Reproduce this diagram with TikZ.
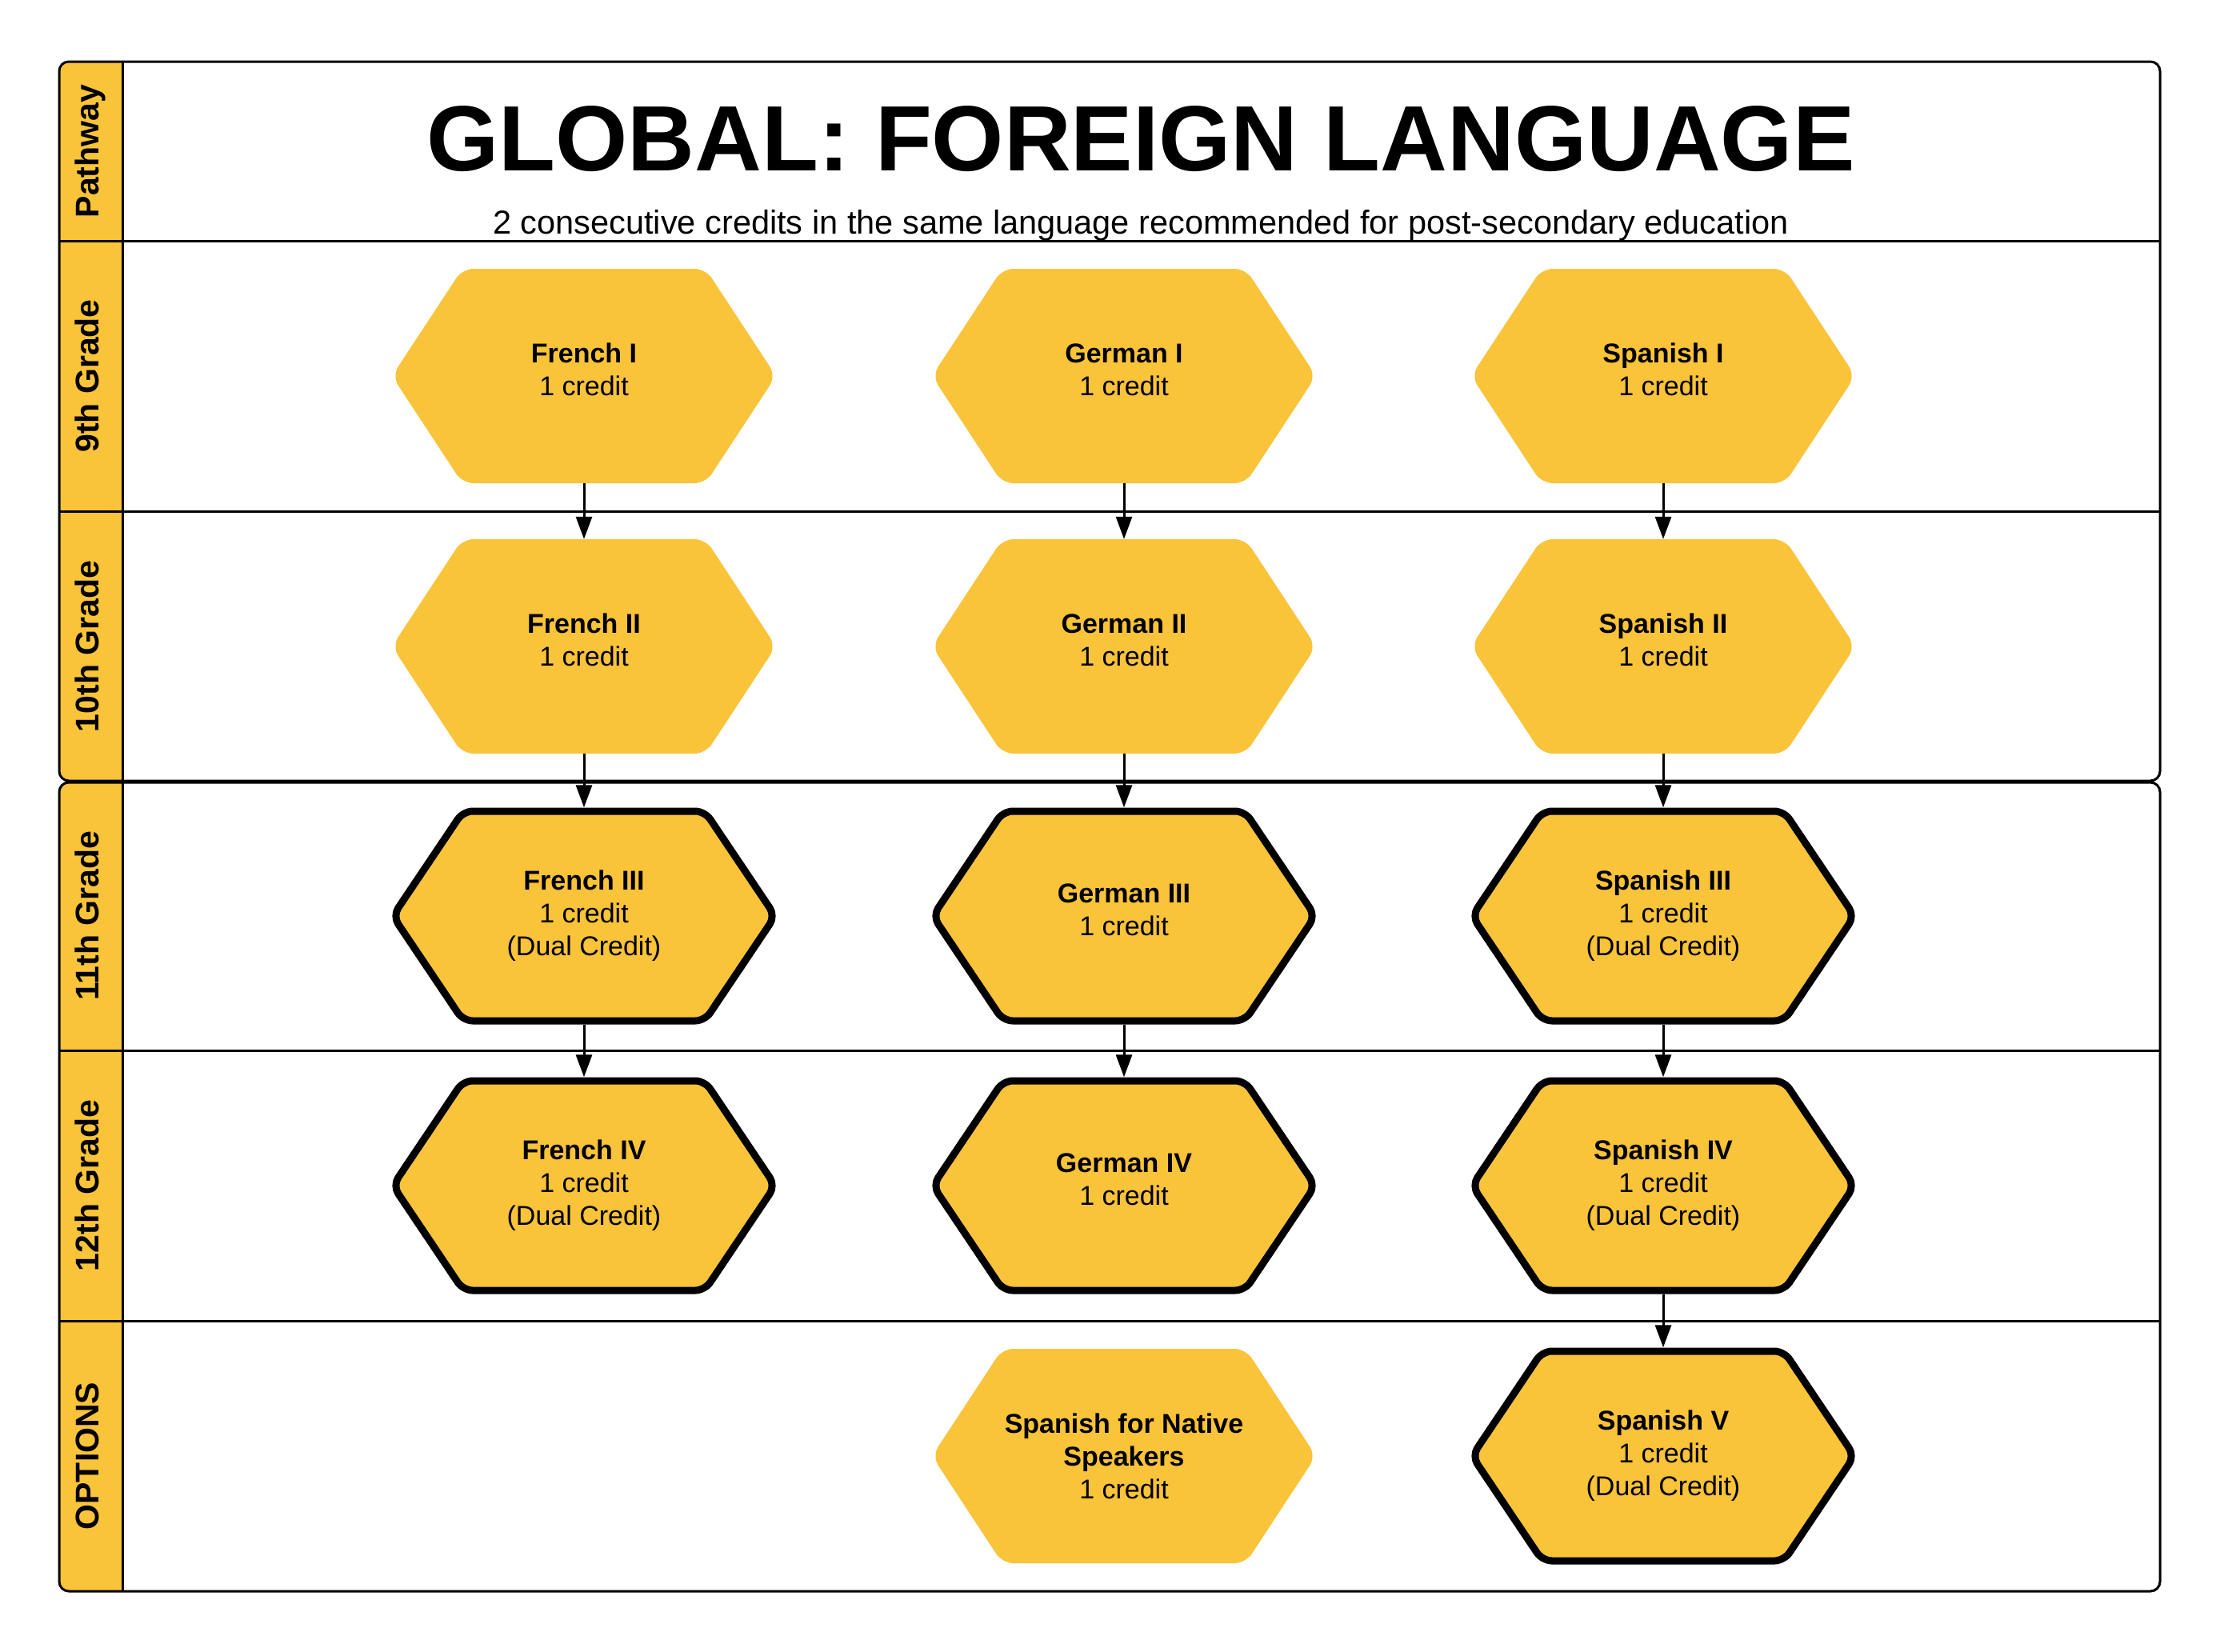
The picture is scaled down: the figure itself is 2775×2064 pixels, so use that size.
\documentclass[tikz,border=0pt]{standalone}
\usepackage{fontspec}
\setmainfont{Liberation Sans}
\usetikzlibrary{arrows.meta}
\definecolor{lanegold}{RGB}{249,195,58}
\newcommand\drawhex[5]{% #1 style, #2 x, #3 y, #4 half width, #5 half height
  \path[#1] (#2,#3-#5) -- (#2+#4-88,#3-#5) -- (#2+#4,#3) -- (#2+#4-88,#3+#5) -- (#2-#4+88,#3+#5) -- (#2-#4,#3) -- (#2-#4+88,#3-#5) -- cycle;}
\begin{document}
\begin{tikzpicture}[x=1pt,y=-1pt,
  frame/.style={line width=3pt, draw=black},
  hexfill/.style={fill=lanegold, rounded corners=14pt},
  hexline/.style={fill=lanegold, draw=black, line width=9pt, rounded corners=12pt, line join=round},
  hexbox/.style={draw=none, minimum width=479pt, minimum height=268pt, inner sep=0pt, align=center, font=\fontsize{34}{41}\selectfont},
  hexboxb/.style={hexbox, minimum height=271pt},
  twoline/.style={text depth=0pt, yshift=8pt},
  lanelabel/.style={rotate=90, anchor=base, font=\bfseries\fontsize{41}{48}\selectfont},
  flow/.style={line width=3pt, -{Triangle[length=28pt,width=20pt]}},
]
\useasboundingbox (0,0) rectangle (2775,2064);
% ---------- pools ----------
\fill[lanegold, rounded corners=12pt] (74,77) rectangle (200,976);
\fill[white] (153,77) rectangle (201,976);
\fill[lanegold, rounded corners=12pt] (74,978) rectangle (200,1989);
\fill[white] (153,978) rectangle (201,1989);
\draw[frame, rounded corners=12pt] (74,77) rectangle (2700,976);
\draw[frame, rounded corners=12pt] (74,978) rectangle (2700,1989);
\draw[frame] (153,77) -- (153,976);
\draw[frame] (153,978) -- (153,1989);
\draw[frame] (74,301) -- (2700,301);
\draw[frame] (74,639) -- (2700,639);
\draw[frame] (74,1313) -- (2700,1313);
\draw[frame] (74,1651) -- (2700,1651);
% ---------- lane labels ----------
\node[lanelabel] (lp) at (123,189) {Pathway};
\node[lanelabel] (l9) at (123,470) {9th Grade};
\node[lanelabel] (l10) at (123,808) {10th Grade};
\node[lanelabel] (l11) at (123,1145) {11th Grade};
\node[lanelabel] (l12) at (123,1482) {12th Grade};
\node[lanelabel] (lo) at (123,1820) {OPTIONS};
% ---------- title ----------
\node[anchor=base, font=\bfseries\fontsize{116}{120}\selectfont] (title) at (1426,213) {GLOBAL: FOREIGN LANGUAGE};
\node[anchor=base, font=\fontsize{41.5}{48}\selectfont] (subtitle) at (1426,292) {2 consecutive credits in the same language recommended for post-secondary education};
% ---------- hexagon shapes ----------
\drawhex{hexfill}{730}{470}{240}{134}
\drawhex{hexfill}{1405}{470}{240}{134}
\drawhex{hexfill}{2079}{470}{240}{134}
\drawhex{hexfill}{730}{808}{240}{134}
\drawhex{hexfill}{1405}{808}{240}{134}
\drawhex{hexfill}{2079}{808}{240}{134}
\drawhex{hexline}{730}{1145}{239}{131}
\drawhex{hexline}{1405}{1145}{239}{131}
\drawhex{hexline}{2079}{1145}{239}{131}
\drawhex{hexline}{730}{1482}{239}{131}
\drawhex{hexline}{1405}{1482}{239}{131}
\drawhex{hexline}{2079}{1482}{239}{131}
\drawhex{hexfill}{1405}{1820}{240}{134}
\drawhex{hexline}{2079}{1820}{239}{131}
% ---------- hexagon texts (invisible boxes, named) ----------
\node[hexbox] (fr1) at (730,470) {};
\node[hexbox] (ge1) at (1405,470) {};
\node[hexbox] (sp1) at (2079,470) {};
\node[hexbox] (fr2) at (730,808) {};
\node[hexbox] (ge2) at (1405,808) {};
\node[hexbox] (sp2) at (2079,808) {};
\node[hexboxb] (fr3) at (730,1145) {\textbf{French III}\\1 credit\\(Dual Credit)};
\node[hexboxb] (ge3) at (1405,1145) {};
\node[hexboxb] (sp3) at (2079,1145) {\textbf{Spanish III}\\1 credit\\(Dual Credit)};
\node[hexboxb] (fr4) at (730,1482) {\textbf{French IV}\\1 credit\\(Dual Credit)};
\node[hexboxb] (ge4) at (1405,1482) {};
\node[hexboxb] (sp4) at (2079,1482) {\textbf{Spanish IV}\\1 credit\\(Dual Credit)};
\node[hexbox] (sns) at (1405,1820) {\textbf{Spanish for Native}\\\textbf{Speakers}\\1 credit};
\node[hexboxb] (sp5) at (2079,1820) {\textbf{Spanish V}\\1 credit\\(Dual Credit)};
% two-line labels, raised slightly as in the reference
\node[hexbox, twoline] (fr1t) at (fr1.center) {\textbf{French I}\\1 credit};
\node[hexbox, twoline] (ge1t) at (ge1.center) {\textbf{German I}\\1 credit};
\node[hexbox, twoline] (sp1t) at (sp1.center) {\textbf{Spanish I}\\1 credit};
\node[hexbox, twoline] (fr2t) at (fr2.center) {\textbf{French II}\\1 credit};
\node[hexbox, twoline] (ge2t) at (ge2.center) {\textbf{German II}\\1 credit};
\node[hexbox, twoline] (sp2t) at (sp2.center) {\textbf{Spanish II}\\1 credit};
\node[hexbox, twoline] (ge3t) at (ge3.center) {\textbf{German III}\\1 credit};
\node[hexbox, twoline] (ge4t) at (ge4.center) {\textbf{German IV}\\1 credit};
% ---------- connectors ----------
\draw[flow] (fr1.south) -- (fr2.north);
\draw[flow] (fr2.south) -- (fr3.north);
\draw[flow] (fr3.south) -- (fr4.north);
\draw[flow] (ge1.south) -- (ge2.north);
\draw[flow] (ge2.south) -- (ge3.north);
\draw[flow] (ge3.south) -- (ge4.north);
\draw[flow] (sp1.south) -- (sp2.north);
\draw[flow] (sp2.south) -- (sp3.north);
\draw[flow] (sp3.south) -- (sp4.north);
\draw[flow] (sp4.south) -- (sp5.north);
\end{tikzpicture}
\end{document}
